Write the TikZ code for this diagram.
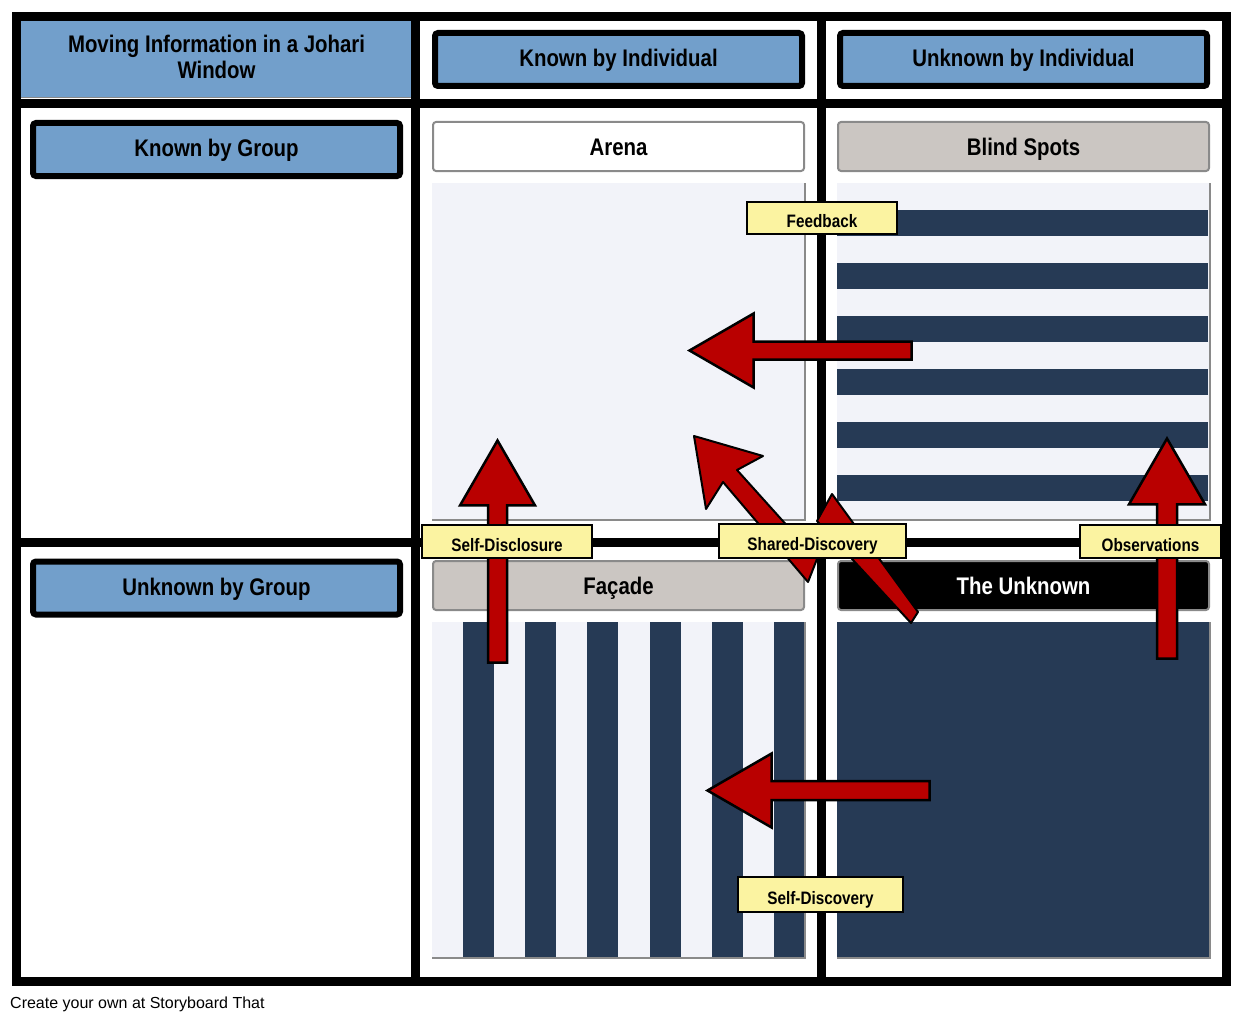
\documentclass[tikz,border=0pt]{standalone}
\usepackage{fontspec}
\usetikzlibrary{shapes.arrows, positioning}

\newfontfamily\boardfont{Liberation Sans}[FakeStretch=0.85]
\newfontfamily\creditfont{Liberation Sans}

\definecolor{headblue}{HTML}{729FCB}
\definecolor{navy}{HTML}{263A55}
\definecolor{paleblue}{HTML}{F2F3F9}
\definecolor{stone}{HTML}{CBC6C2}
\definecolor{notepaper}{HTML}{FBF3A1}
\definecolor{arrowred}{HTML}{B90000}
\definecolor{edgegray}{HTML}{8A8A8A}

\tikzset{
  bigtext/.style={font=\boardfont\bfseries\fontsize{24}{26}\selectfont},
  heading/.style={bigtext, draw=black, line width=6pt, fill=headblue,
    rounded corners=3pt, minimum width=367pt, minimum height=53pt,
    text height=17pt, text depth=2pt},
  pane title/.style={bigtext, draw=edgegray, line width=2pt, rounded corners=3pt,
    minimum width=371pt, minimum height=49pt, text height=17pt, text depth=0pt},
  tag/.style={draw=black, line width=2pt, fill=notepaper, inner sep=0pt,
    text height=19pt, text depth=0pt,
    font=\boardfont\bfseries\fontsize{18}{20}\selectfont},
  info arrow/.style={single arrow, draw=black, fill=arrowred, line width=2.5pt,
    inner xsep=0pt, outer sep=0pt, single arrow tip angle=60, anchor=tip},
  shard/.style={fill=arrowred, draw=black, line width=2pt, line join=round},
  pane edge/.style={edgegray, line width=1.5pt}
}

\begin{document}
\begin{tikzpicture}[x=1pt, y=-1pt]
  \useasboundingbox (0,0) rectangle (1244,1022);
  \fill[white] (0,0) rectangle (1244,1022);

  % corner cell
  \fill[headblue] (21,21) rectangle (411,97);
  \draw[edgegray, line width=1pt] (21,97.5) -- (411,97.5);
  \node[bigtext, align=center] (title) at (216.5,57) {Moving Information in a Johari\\Window};

  % the four panes
  \fill[paleblue] (432,183) rectangle (805,520);
  \fill[paleblue] (837,183) rectangle (1209,520);
  \foreach \i in {0,...,5}
    \fill[navy] (837,210+53*\i) rectangle (1208,236+53*\i);
  \fill[paleblue] (432,622) rectangle (805,958);
  \foreach \i in {0,...,5}
    \fill[navy] (463+62.2*\i,622) rectangle (494+62.2*\i,957);
  \fill[navy] (837,622) rectangle (1209,958);
  \foreach \x in {432,837} {
    \draw[pane edge] (\x+373,183) -- (\x+373,520) -- (\x,520);
    \draw[pane edge] (\x+373,622) -- (\x+373,958) -- (\x,958);
  }

  % grid
  \draw[line width=9pt] (16.5,16.5) rectangle (1226,981);
  \foreach \x in {415.5,821} \draw[line width=9pt] (\x,16.5) -- (\x,981);
  \foreach \y in {103.5,542} \draw[line width=9pt] (16.5,\y) -- (1226,\y);

  % headings
  \node[heading] (knownind) at (618.5,59.5) {Known by Individual};
  \node[heading, right=32pt of knownind] (unknownind) {Unknown by Individual};
  \node[heading] (knowngrp) at (216.5,149.5) {Known by Group};
  \node[heading] (unknowngrp) at (216.5,588) {Unknown by Group};

  % pane titles
  \node[pane title, fill=white, below=32pt of knownind] (arena) {Arena};
  \node[pane title, fill=stone, below=32pt of unknownind] (blind) {Blind Spots};
  \node[pane title, fill=stone] (facade) at (618.5,585.5) {Façade};
  \node[pane title, fill=black, text=white, right=32pt of facade] (unknown) {The Unknown};

  % arrows
  \node[info arrow, rotate=180, inner ysep=7.75pt, single arrow head extend=28pt,
    minimum height=222pt] (feedarrow) at (689.5,350.5) {};
  \node[info arrow, rotate=90, inner ysep=8.25pt, single arrow head extend=28pt,
    minimum height=222pt] (disclosearrow) at (497.5,440.5) {};
  \node[info arrow, rotate=90, inner ysep=8.75pt, single arrow head extend=28pt,
    minimum height=220pt] (observearrow) at (1167,438.5) {};
  \node[info arrow, rotate=180, inner ysep=8.25pt, single arrow head extend=27.5pt,
    minimum height=222pt] (discoverarrow) at (707.5,790.5) {};
  \draw[shard] (694,436) -- (763,456) -- (737,470) -- (817,559) -- (808,582)
    -- (723,482) -- (706,509) -- cycle;
  \draw[shard] (832,494) -- (918,612) -- (911,623) -- (817,521) -- cycle;

  % tags
  \node[tag, minimum width=150pt, minimum height=32pt] (feedback) at (822,218) {Feedback};
  \node[tag, minimum width=170pt, minimum height=33pt] (disclosure) at (507,541.5) {Self-Disclosure};
  \node[tag, minimum width=187pt, minimum height=34pt] (shared) at (812.5,541) {Shared-Discovery};
  \node[tag, minimum width=141pt, minimum height=33pt] (observe) at (1150.5,541.5) {Observations};
  \node[tag, minimum width=165pt, minimum height=35pt] (selfdisc) at (820.5,894.5) {Self-Discovery};

  \node[anchor=base west, inner sep=0pt, font=\creditfont\fontsize{16}{18}\selectfont]
    (credit) at (10,1008) {Create your own at Storyboard That};
\end{tikzpicture}
\end{document}
